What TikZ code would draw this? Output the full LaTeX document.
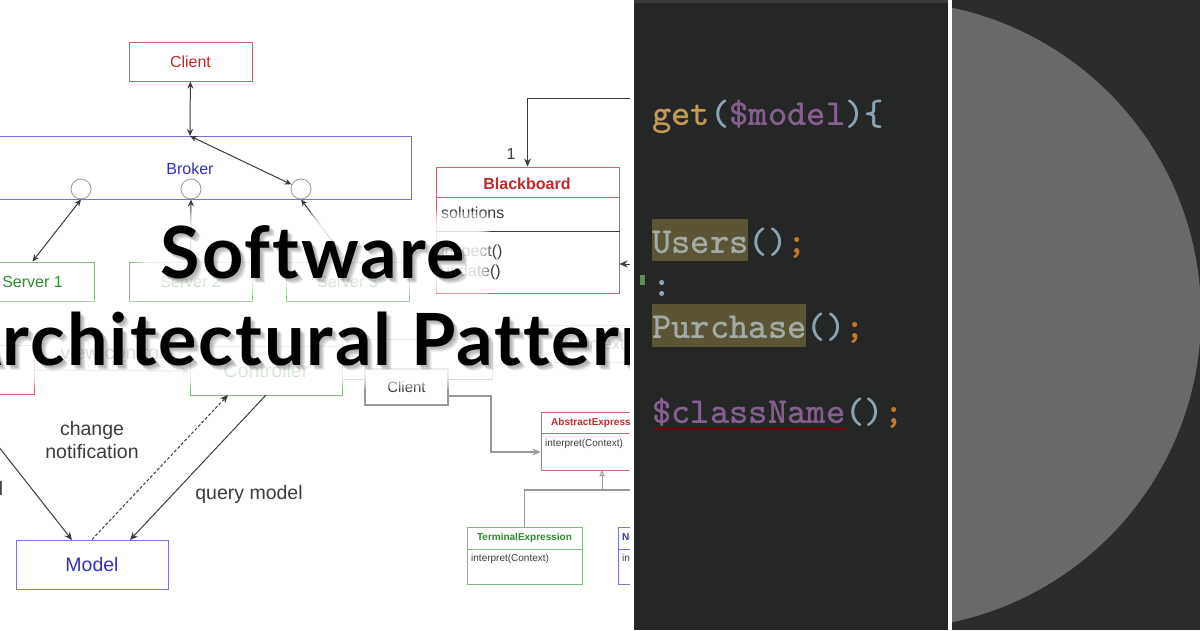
\documentclass[tikz,border=0pt]{standalone}
\usepackage{fontspec}
\setmainfont{Liberation Sans}
\newfontfamily\titlefont[LetterSpace=2.7,Ligatures=NoCommon]{Lato}
\usetikzlibrary{arrows.meta}

\definecolor{redline}{HTML}{C9686A}
\definecolor{redtext}{HTML}{BE2A2A}
\definecolor{blueline}{HTML}{7474D8}
\definecolor{bluetext}{HTML}{3232C0}
\definecolor{greenline}{HTML}{84B884}
\definecolor{greentext}{HTML}{2E8B2E}
\definecolor{greyline}{HTML}{9A9A9A}
\definecolor{darktext}{HTML}{3C3C3C}
\definecolor{codebg}{HTML}{252626}
\definecolor{codetop}{HTML}{3A3B3B}
\definecolor{sidebg}{HTML}{2C2C2C}
\definecolor{disc}{HTML}{696969}
\definecolor{marked}{HTML}{5B5437}
\definecolor{markgreen}{HTML}{5E8A5E}
\definecolor{cgold}{HTML}{C39A52}
\definecolor{cpurple}{HTML}{85608F}
\definecolor{cblue}{HTML}{8CA3B3}
\definecolor{cpale}{HTML}{A3ABA5}
\definecolor{corange}{HTML}{BF7A2C}

\tikzset{
	boxed/.style = {draw, line width = 1pt, fill=white, inner sep=0pt, minimum width=#1},
	boxed/.default = 123,
	conn/.style = {{Stealth[length=7pt,width=6pt]}-{Stealth[length=7pt,width=6pt]}, line width = 1pt, draw=darktext},
	arrow/.style = {-{Stealth[length=8pt,width=7pt]}, line width = 1pt, draw=darktext},
	lbl/.style = {font=\fontsize{19.5}{23.5}\selectfont, text=darktext, align=center, inner sep=0pt},
	small/.style = {font=\fontsize{16}{19}\selectfont, inner sep=0pt},
	tiny/.style = {font=\fontsize{10}{12}\selectfont, text=darktext, inner sep=0pt, anchor=west},
	bold/.style = {font=\fontsize{10}{12}\selectfont\bfseries, inner sep=0pt},
	code/.style = {font=\ttfamily\bfseries\fontsize{36.8}{40}\selectfont, inner sep=0pt, anchor=base west},
	headline/.style = {font=\titlefont\fontsize{72}{84}\selectfont\bfseries, inner sep=0pt, anchor=base}
}

\begin{document}
\begin{tikzpicture}[x=1pt, y=-1pt]
	\useasboundingbox (0,0) rectangle (1200,630);
	\fill[white] (0,0) rectangle (1200,630);

	% client and broker
	\node[boxed, draw=redline, minimum height=39, text=redtext, small] (client) at (190.5,61.5) {Client};
	\node[boxed, draw=blueline, minimum width=442, minimum height=63] (broker) at (190,167.5) {};
	\node[small, text=bluetext] (brokerlabel) at (190,169) {Broker};
	\node[draw=greyline, circle, fill=white, minimum size=20, inner sep=0pt, line width=0.8pt] (port1) at (81,189) {};
	\node[draw=greyline, circle, fill=white, minimum size=20, inner sep=0pt, line width=0.8pt] (port2) at (191,189) {};
	\node[draw=greyline, circle, fill=white, minimum size=20, inner sep=0pt, line width=0.8pt] (port3) at (301,189) {};
	\node[boxed, draw=greenline, minimum height=39, text=greentext, small] (server1) at (32.5,281.5) {Server 1};
	\node[boxed, draw=greenline, minimum height=39, text=greentext, small] (server2) at (190.5,281.5) {Server 2};
	\node[boxed, draw=greenline, minimum height=39, text=greentext, small] (server3) at (347.5,281.5) {Server 3};

	\coordinate (brokertop) at (190,136);
	\draw[conn] (client) -- (brokertop);
	\draw[conn] (brokertop) -- (port3);
	\draw[conn] (port1.south) -- (server1.north);
	\draw[conn] (port2.south) -- (server2);
	\draw[conn] (port3.south) -- (server3.north);

	% model view controller
	\node[boxed, minimum width=152, minimum height=49, draw=redline] (view) at (-42,370) {};
	\node[boxed, minimum width=152, minimum height=49, draw=greenline, text=greentext, font=\fontsize{19.5}{23}\selectfont] (controller) at (266,371) {Controller};
	\node[boxed, minimum width=152, minimum height=49, draw=blueline, text=bluetext, font=\fontsize{19.5}{23}\selectfont] (model) at (92,564.5) {Model};
	\node[lbl] (viewlabel) at (112,353) {view control};
	\node[lbl] (changelabel) at (92,440) {change\\notification};
	\node[lbl] (querylabel) at (249,494) {query model};
	\node[lbl] (modellabel) at (1,488) {l};

	\coordinate (ctrlA) at (228,395);
	\coordinate (ctrlB) at (266,395);
	\coordinate (modelA) at (130,540);
	\draw[arrow, draw=greyline] (view.east) -- (controller.west);
	\draw[arrow] (view.south) -- (72,540);
	\draw[arrow, dashed, dash pattern=on 3pt off 2pt] (model.north) -- (ctrlA);
	\draw[arrow] (ctrlB) -- (modelA);

	% blackboard
	\node[boxed, minimum width=183, minimum height=126, draw=redline] (board) at (527.5,230) {};
	\node[small, font=\fontsize{16}{19}\selectfont\bfseries, text=redtext] (boardname) at (527,184) {Blackboard};
	\node[small, text=darktext, anchor=west] (solutions) at (441,213) {solutions};
	\node[small, text=darktext, anchor=west] (inspect) at (441,252) {inspect()};
	\node[small, text=darktext, anchor=west] (update) at (441,272) {update()};
	\node[small, text=darktext] (one) at (511,154) {1};
	\draw[draw=redline, line width=1pt] (board.west |- 0,197) -- (board.east |- 0,197);
	\draw[draw=darktext, line width=1pt] (board.west |- 0,231) -- (board.east |- 0,231);
	\coordinate (boardin) at (700,98);
	\coordinate (boardback) at (700,264);
	\draw[arrow] (boardin) -| (board.north);
	\draw[arrow] (boardback) -- (board.east |- boardback);

	% interpreter
	\node[boxed, minimum width=150, minimum height=40, draw=greyline] (contextbox) at (417,359) {};
	\node[boxed, minimum width=120, minimum height=37, draw=greyline, text=darktext, small] (contexttext) at (597,344) {Context};
	\node[boxed, minimum width=83, minimum height=36, draw=greyline, line width=1.3pt, text=darktext, small, font=\fontsize{15}{18}\selectfont] (intclient) at (406.5,387) {Client};
	\node[boxed, minimum width=170, minimum height=58, draw=redline] (abstract) at (626,441) {};
	\node[bold, text=redtext, anchor=west] (abstractname) at (551,423) {AbstractExpression};
	\node[tiny] (abstractop) at (545,444) {interpret(Context)};
	\node[boxed, minimum width=115, minimum height=57, draw=greenline] (terminal) at (524.5,555.5) {};
	\node[bold, text=greentext] (terminalname) at (524.5,538) {TerminalExpression};
	\node[tiny] (terminalop) at (471,559) {interpret(Context)};
	\node[boxed, minimum width=130, minimum height=57, draw=blueline] (nonterminal) at (683,555.5) {};
	\node[bold, text=bluetext, anchor=west] (nonterminalname) at (622,538) {NonterminalExpression};
	\node[tiny] (nonterminalop) at (622,559) {interpret(Context)};
	\draw[draw=redline, line width=0.8pt] (abstract.west |- 0,433) -- (abstract.east |- 0,433);
	\draw[draw=greenline, line width=0.8pt] (terminal.west |- 0,549) -- (terminal.east |- 0,549);
	\draw[draw=blueline, line width=0.8pt] (nonterminal.west |- 0,549) -- (nonterminal.east |- 0,549);
	\coordinate (joint) at (602,490);
	\draw[arrow, draw=greyline, line width=1.3pt] (intclient.east |- 0,396) -- (491,396) -- (491,452) -- (abstract.west |- 0,452);
	\draw[line width=1pt, draw=greyline, -{Triangle[open,length=6pt,width=5pt]}] (joint) -- (602,470);
	\draw[line width=1.3pt, draw=greyline] (terminal.north) |- (joint) -- (700,490);

	% glow behind the title
	\foreach \g in {0,3,6,9,12}
		\fill[white, opacity=0.3, rounded corners=8pt] (148-\g,224-\g) rectangle (478+\g,284+\g);
	\foreach \g in {0,3,6,9,12}
		\fill[white, opacity=0.3, rounded corners=8pt] (-20,312-\g) rectangle (660,376+\g);

	% title
	\foreach \d in {2,3,4,5} {
		\node[headline, text=black, opacity=0.08] (shadowa\d) at (313+\d,278+\d) {Software};
		\node[headline, text=black, opacity=0.08] (shadowb\d) at (323+\d,365+\d) {Architectural Patterns};
	}
	\node[headline] (titlea) at (313,278) {Software};
	\node[headline] (titleb) at (323,365) {Architectural Patterns};

	% code panel
	\fill[white] (630,0) rectangle (634,630);
	\fill[codebg] (634,0) rectangle (948,630);
	\fill[codetop] (634,0) rectangle (948,3);
	\fill[white] (948,0) rectangle (952,630);
	\fill[marked] (652,219) rectangle (748,261);
	\fill[marked] (652,304) rectangle (806,347);
	\fill[markgreen] (640,275) rectangle (645,285);
	\node[code] (codeget) at (652,125) {\textcolor{cgold}{get}\textcolor{cblue}{(}\textcolor{cpurple}{\$model}\textcolor{cblue}{)\{}};
	\node[code] (codeusers) at (652,253) {\textcolor{cpale}{Users}\textcolor{cblue}{()}\textcolor{corange}{;}};
	\node[code] (codecolon) at (652,296) {\textcolor{cblue}{:}};
	\node[code] (codepurchase) at (652,338) {\textcolor{cpale}{Purchase}\textcolor{cblue}{()}\textcolor{corange}{;}};
	\node[code] (codeclass) at (652,423) {\textcolor{cpurple}{\$className}\textcolor{cblue}{()}\textcolor{corange}{;}};
	\draw[draw=red!45!black, line width=1.5pt] (653,428) -- (845,428);

	% side panel
	\fill[sidebg] (952,0) rectangle (1200,630);
	\begin{scope}
		\clip (952,0) rectangle (1200,630);
		\fill[disc] (887,315) circle [radius=314];
	\end{scope}
\end{tikzpicture}
\end{document}
